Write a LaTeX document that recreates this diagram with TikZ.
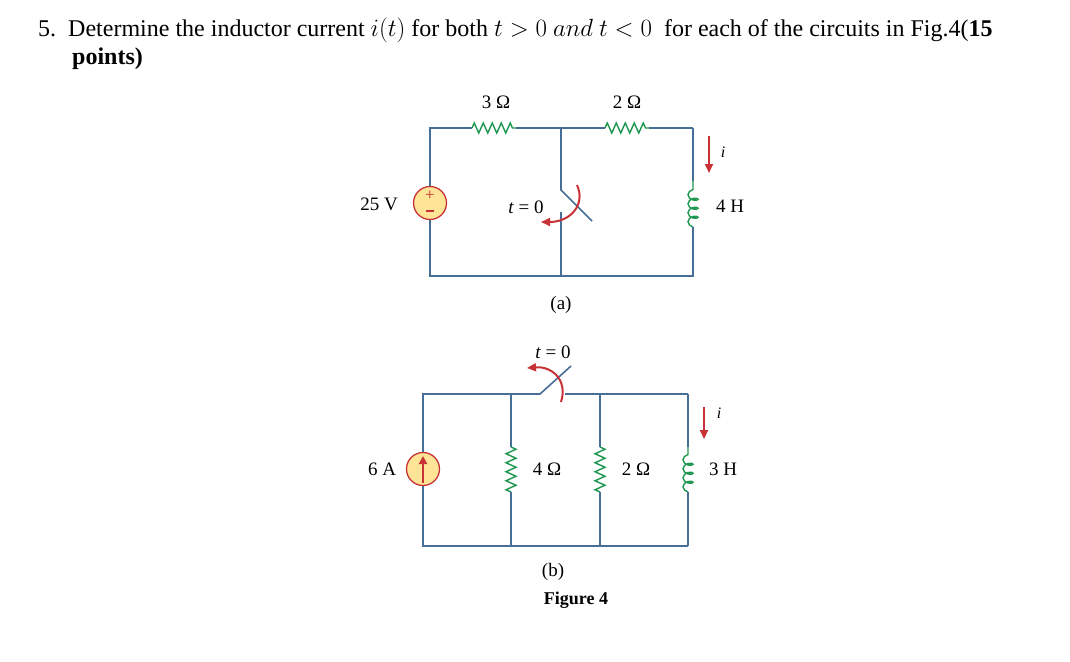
\documentclass[tikz,border=0pt]{standalone}
\usepackage{fontspec}
\setmainfont{Liberation Serif}
\usetikzlibrary{decorations.pathmorphing,arrows.meta}
\definecolor{wire}{RGB}{70,110,150}
\definecolor{res}{RGB}{30,150,80}
\definecolor{rd}{RGB}{200,50,55}
\definecolor{srcfill}{RGB}{253,228,150}
\begin{document}
\begin{tikzpicture}[x=1pt,y=-1pt,
  w/.style={draw=wire,line width=1.6pt},
  rz/.style={draw=res,line width=1.4pt,decorate,decoration={zigzag,segment length=9pt,amplitude=5pt}},
  ind/.style={draw=res,line width=1.4pt,decorate,decoration={coil,aspect=0.6,segment length=9pt,amplitude=5pt}},
  src/.style={circle,draw=rd,fill=srcfill,line width=1.3pt,minimum size=33pt,inner sep=0pt},
  ra/.style={draw=rd,line width=2pt,-{Triangle[length=9pt,width=8pt]}},
  lbl/.style={font=\fontsize{19}{22}\selectfont,inner sep=0pt},
  ht/.style={font=\fontsize{24}{27}\selectfont,inner sep=0pt,anchor=base west}]
\useasboundingbox (0,0) rectangle (1070,661);
\node[ht] (h1) at (38,37) {5.\ \ Determine the inductor current $i(t)$ for both $t>0$ $and$ $t<0$ \ for each of the circuits in Fig.4(\textbf{15}};
\node[ht] (h2) at (72,65) {\textbf{points)}};
% ---- circuit (a)
\coordinate (a1) at (430,128); \coordinate (a2) at (561,128); \coordinate (a3) at (693,128);
\coordinate (a4) at (430,276); \coordinate (a5) at (561,276); \coordinate (a6) at (693,276);
\node[src] (va) at (430,203) {};
\node[font=\fontsize{17}{17}\selectfont,text=rd,inner sep=0pt] (vp) at (430,196) {+};
\draw[rd,line width=1.2pt] (426,211) -- (434,211);
\coordinate (r1s) at (472,128); \coordinate (r1e) at (516,128);
\coordinate (r2s) at (605,128); \coordinate (r2e) at (649,128);
\draw[w] (va.north) -- (a1) -- (r1s); \draw[w] (r1e) -- (a2) -- (r2s); \draw[w] (r2e) -- (a3);
\draw[rz] (r1s) -- (r1e); \draw[rz] (r2s) -- (r2e);
\coordinate (l1s) at (693,181); \coordinate (l1e) at (693,227);
\draw[w] (a3) -- (l1s); \draw[ind] (l1e) -- (l1s); \draw[w] (l1e) -- (a6) -- (a5) -- (a4) -- (va.south);
\coordinate (swa1) at (561,190); \coordinate (swa2) at (592,221); \coordinate (swa3) at (561,212);
\draw[w] (a2) -- (swa1) -- (swa2); \draw[w] (swa3) -- (a5);
\coordinate (ara) at (577,185); \coordinate (arb) at (541,222);
\draw[ra] (ara) .. controls (586,205) and (570,222) .. (arb);
\node[lbl] (ta) at (526,207) {\textit{t} = 0};
\node[lbl] (ra1) at (496,102) {3 Ω};
\node[lbl] (ra2) at (627,102) {2 Ω};
\node[lbl] (va1) at (379,204) {25 V};
\node[lbl] (la) at (730,206) {4 H};
\coordinate (ia1) at (709,136); \coordinate (ia2) at (709,173);
\draw[ra] (ia1) -- (ia2);
\node[lbl,font=\fontsize{16}{18}\selectfont\itshape] (iat) at (723,152) {i};
\node[lbl] (capa) at (561,305) {(a)};
% ---- circuit (b)
\coordinate (b1) at (423,394); \coordinate (b2) at (511,394); \coordinate (b3) at (600,394); \coordinate (b4) at (688,394);
\coordinate (b5) at (423,546); \coordinate (b6) at (511,546); \coordinate (b7) at (600,546); \coordinate (b8) at (688,546);
\node[src] (ib) at (423,469) {};
\draw[rd,line width=2pt,-{Triangle[length=8pt,width=8pt]}] (423,483) -- (423,456);
\coordinate (swb1) at (540,394); \coordinate (swb2) at (571,366); \coordinate (swb3) at (565,394);
\draw[w] (ib.north) -- (b1) -- (b2) -- (swb1) -- (swb2);
\draw[w] (swb3) -- (b3) -- (b4);
\coordinate (r3s) at (511,447); \coordinate (r3e) at (511,492);
\coordinate (r4s) at (600,447); \coordinate (r4e) at (600,492);
\coordinate (l2s) at (688,447); \coordinate (l2e) at (688,492);
\draw[w] (b2) -- (r3s); \draw[rz] (r3s) -- (r3e); \draw[w] (r3e) -- (b6);
\draw[w] (b3) -- (r4s); \draw[rz] (r4s) -- (r4e); \draw[w] (r4e) -- (b7);
\draw[w] (b4) -- (l2s); \draw[ind] (l2e) -- (l2s); \draw[w] (l2e) -- (b8);
\draw[w] (ib.south) -- (b5) -- (b8);
\coordinate (arc1) at (561,402); \coordinate (arc2) at (527,368);
\draw[ra] (arc1) .. controls (568,380) and (552,366) .. (arc2);
\node[lbl] (tb) at (553,352) {\textit{t} = 0};
\node[lbl] (rb1) at (547,469) {4 Ω};
\node[lbl] (rb2) at (636,469) {2 Ω};
\node[lbl] (lb) at (723,469) {3 H};
\node[lbl] (ib1) at (382,469) {6 A};
\coordinate (ib1s) at (704,407); \coordinate (ib1e) at (704,439);
\draw[ra] (ib1s) -- (ib1e);
\node[lbl,font=\fontsize{16}{18}\selectfont\itshape] (ibt) at (719,413) {i};
\node[lbl] (capb) at (553,572) {(b)};
\node[lbl,font=\fontsize{18}{20}\selectfont\bfseries] (fig) at (576,600) {Figure 4};
\end{tikzpicture}
\end{document}
